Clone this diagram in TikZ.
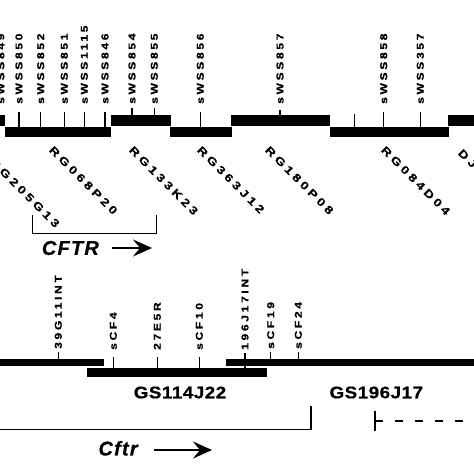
\documentclass[tikz,border=0pt]{standalone}
\usepackage{fontspec}
\setmainfont{Liberation Sans}
\newfontfamily\vfont{Liberation Sans}[FakeStretch=1.2,LetterSpace=27,BoldFeatures={FakeBold=0.8}]
\newfontfamily\dfont{Liberation Sans}[FakeStretch=1.25,LetterSpace=30,BoldFeatures={FakeBold=0.8}]
\newfontfamily\gfont{Liberation Sans}[FakeStretch=1.12,LetterSpace=3,BoldFeatures={FakeBold=0.6}]
\newfontfamily\cfont{Liberation Sans}[LetterSpace=6,BoldItalicFeatures={FakeBold=0.5}]
\usetikzlibrary{arrows.meta}
\begin{document}
\begin{tikzpicture}[x=1pt,y=-1pt,
  vlab/.style={rotate=90,anchor=west,inner sep=0pt,font=\vfont\bfseries\fontsize{10}{11}\selectfont},
  dlab/.style={rotate=-45,anchor=west,inner sep=0pt,font=\dfont\bfseries\fontsize{11}{12}\selectfont},
  clone/.style={inner sep=0pt,font=\gfont\bfseries\fontsize{16.8}{18}\selectfont},
  gene/.style={inner sep=0pt,anchor=west,font=\cfont\bfseries\itshape\fontsize{20}{22}\selectfont},
  mk/.style={line width=1.2pt},
  bar/.style={fill=black},
  brk/.style={line width=1.4pt},
  garrow/.style={line width=1.6pt,-{Stealth[length=19pt,width=17pt,inset=7pt]}}
]
\useasboundingbox (0,0) rectangle (474,474);
\clip (0,0) rectangle (474,474);
\fill[white] (0,0) rectangle (474,474);

% ---------- top map: bars ----------
\fill[bar] (-5,114.5) rectangle (5,125.5);
\fill[bar] (110.5,114.5) rectangle (170.5,125.5);
\fill[bar] (231,114.5) rectangle (330,125.5);
\fill[bar] (448,114.5) rectangle (480,125.5);
\fill[bar] (5,126.5) rectangle (111,136.7);
\fill[bar] (170,126.5) rectangle (231.5,136.7);
\fill[bar] (329.5,126.5) rectangle (449,136.7);

% ---------- top map: markers ----------
\node[vlab] (w849) at (0.8,104) {sWSS849};
\node[vlab] (w850) at (19,104) {sWSS850};
\node[vlab] (w852) at (40.7,104) {sWSS852};
\node[vlab] (w851) at (64.3,104) {sWSS851};
\node[vlab] (w1115) at (84.3,104) {sWSS1115};
\node[vlab] (w846) at (105,104) {sWSS846};
\node[vlab] (w854) at (132,104) {sWSS854};
\node[vlab] (w855) at (154.3,104) {sWSS855};
\node[vlab] (w856) at (200.3,104) {sWSS856};
\node[vlab] (w857) at (280,104) {sWSS857};
\node[vlab] (w858) at (383.7,104) {sWSS858};
\node[vlab] (w357) at (420.3,104) {sWSS357};

\foreach \x in {19,40.7,64.3,84.3,105,200.3,383.7,420.3}
  \draw[mk] (\x,112) -- (\x,126.5);
\foreach \x in {132,154.3}
  \draw[mk] (\x,108) -- (\x,114.5);
\draw[mk] (280,110) -- (280,114.5);
\draw[mk] (354.3,114) -- (354.3,126.5);

% ---------- top map: clone names ----------
\node[dlab] (c205) at (-8,160) {RG205G13};
\node[dlab] (c068) at (51,148) {RG068P20};
\node[dlab] (c133) at (131,148) {RG133K23};
\node[dlab] (c363) at (199,148) {RG363J12};
\node[dlab] (c180) at (267,148) {RG180P08};
\node[dlab] (c084) at (383,148) {RG084D04};
\node[dlab] (cdj) at (460,151) {DJ};

% ---------- CFTR ----------
\coordinate (b1a) at (32.3,215);
\coordinate (b1b) at (156.7,215);
\draw[brk] (b1a) -- (32.3,233.3) -- (156.7,233.3) -- (b1b);
\node[gene] (cftrU) at (41.7,248) {CFTR};
\coordinate (a1s) at (111.7,248);
\coordinate (a1e) at (152,248);
\draw[garrow] (a1s) -- (a1e);

% ---------- bottom map: bars ----------
\fill[bar] (-5,359.3) rectangle (104,366.3);
\fill[bar] (225.7,359.3) rectangle (480,366.3);
\fill[bar] (87.3,368.3) rectangle (267.3,377.3);

% ---------- bottom map: markers ----------
\node[vlab] (m39) at (58.3,349) {39G11INT};
\node[vlab] (m4) at (113.3,350) {sCF4};
\node[vlab] (m27) at (157.3,350) {27E5R};
\node[vlab] (m10) at (199.3,350) {sCF10};
\node[vlab] (m196) at (245,350) {196J17INT};
\node[vlab] (m19) at (270.7,349) {sCF19};
\node[vlab] (m24) at (298.3,349) {sCF24};

\draw[mk] (58.3,351.5) -- (58.3,359.3);
\foreach \x in {113.3,157.3,199.3}
  \draw[mk] (\x,357) -- (\x,368.3);
\draw[mk] (245,353) -- (245,370);
\foreach \x in {270.7,298.3}
  \draw[mk] (\x,351.5) -- (\x,359.3);

% ---------- clone labels ----------
\node[clone] (gs114) at (180,392.5) {GS114J22};
\node[clone] (gs196) at (376.3,392.5) {GS196J17};

% ---------- Cftr ----------
\coordinate (b2a) at (-5,429.3);
\coordinate (b2b) at (311,406);
\draw[brk] (b2a) -- (311,429.3) -- (b2b);
\node[gene] (cftrL) at (98.3,448.3) {Cftr};
\coordinate (a2s) at (154,450);
\coordinate (a2e) at (212,450);
\draw[garrow] (a2s) -- (a2e);

% ---------- GS196J17 extent ----------
\coordinate (d1) at (375,421);
\coordinate (d2) at (480,421);
\draw[brk] (375,410.7) -- (375,430.7);
\draw[brk,dash pattern=on 8pt off 12pt] (d1) -- (d2);
\end{tikzpicture}
\end{document}
